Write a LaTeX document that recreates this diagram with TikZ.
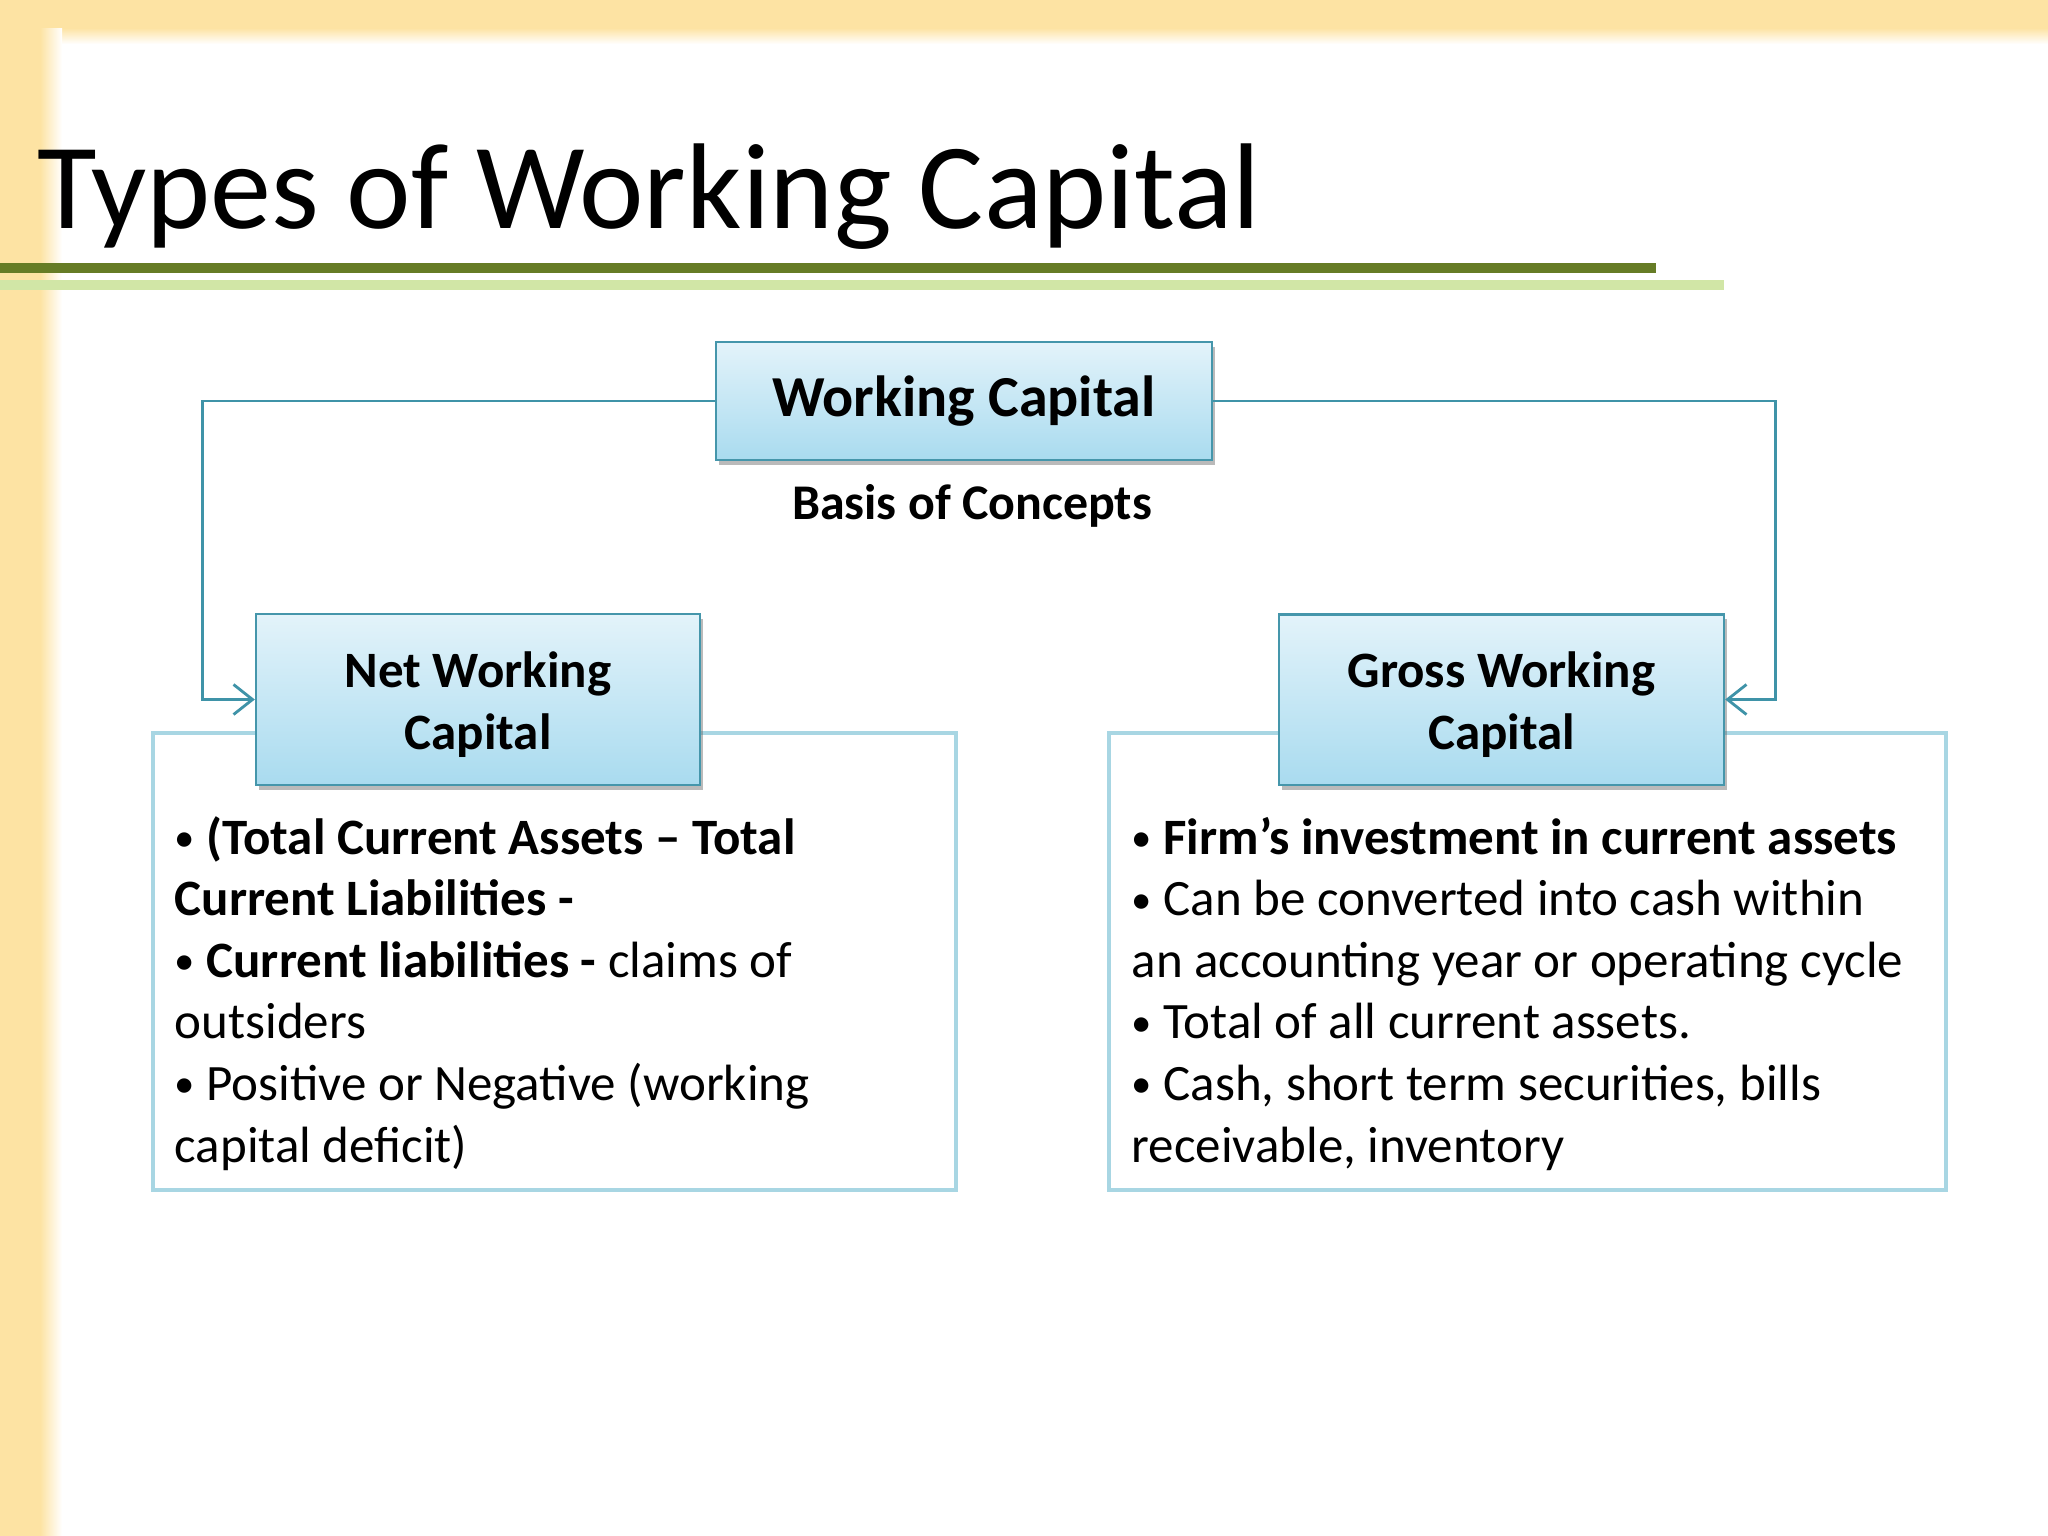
\documentclass[tikz,border=0pt]{standalone}
\usepackage{fontspec}
\setmainfont{Carlito}
\usetikzlibrary{positioning}
\usetikzlibrary{calc}
\usetikzlibrary{shadows}
\usetikzlibrary{arrows.meta}
\definecolor{sand}{HTML}{FDE3A3}
\definecolor{titlegreen}{HTML}{667C26}
\definecolor{palegreen}{HTML}{D1E6A6}
\definecolor{boxline}{HTML}{4596AB}
\definecolor{boxtop}{HTML}{E3F3FA}
\definecolor{boxbot}{HTML}{A9DBEF}
\definecolor{infoline}{HTML}{A8D6E3}
\definecolor{connline}{HTML}{3F93A8}
\newcommand{\blt}{\raisebox{0.05em}{\scalebox{0.8}{\textbullet}}\ }
\tikzset{headbox/.style={draw=boxline, line width=0.6pt, top color=boxtop, bottom color=boxbot, align=center, font=\fontsize{14.5}{17.5}\selectfont\bfseries, drop shadow={shadow xshift=0.03cm, shadow yshift=-0.05cm, opacity=0.45, fill=black!60}}}
\tikzset{infobox/.style={draw=infoline, line width=1.1pt, fill=white}}
\tikzset{infotext/.style={anchor=base west, inner sep=0pt, align=left, font=\fontsize{14.5}{17.5}\selectfont}}
\tikzset{conn/.style={draw=connline, line width=0.8pt, -{Straight Barb[length=0.19cm, width=0.3cm]}}}

\begin{document}
\begin{tikzpicture}[x=0.01cm, y=-0.01cm]

\useasboundingbox (0,0) rectangle (2048,1536);
\fill[white] (0,0) rectangle (2048,1536);

\fill[sand] (0,0) rectangle (2048,28);
\shade[top color=sand, bottom color=white] (62,28) rectangle (2048,44);
\shade[left color=sand, right color=white] (40,28) rectangle (62,1536);
\fill[sand] (0,0) rectangle (40,1536);

\node[anchor=base west, inner sep=0pt, font=\fontsize{34.7}{40}\selectfont] (title) at (37,228) {Types of Working Capital};
\fill[titlegreen] (0,263) rectangle (1656,273);
\fill[palegreen] (0,280) rectangle (1724,290);

\node[infobox, minimum width=8.03cm, minimum height=4.57cm] (netinfo) at (554.5,961.5) {};
\node[infobox, minimum width=8.37cm, minimum height=4.57cm] (grossinfo) at (1527.5,961.5) {};

\node[headbox, font=\fontsize{16.5}{20}\selectfont\bfseries, minimum width=4.96cm, minimum height=1.18cm] (wc) at (964,401) {Working Capital};
\node[anchor=base, inner sep=0pt, font=\fontsize{14.2}{17}\selectfont\bfseries] (basis) at (972,519) {Basis of Concepts};

\node[headbox, minimum width=4.44cm, minimum height=1.71cm] (net) at (478,699.5) {\\[-0.3em]Net Working\\Capital};
\node[headbox, minimum width=4.45cm, minimum height=1.70cm] (gross) at (1501.5,699.5) {\\[-0.3em]Gross Working\\Capital};

\draw[conn] (wc.west) -| ([xshift=-0.52cm]net.west) -- (net.west);
\draw[conn] (wc.east) -| ([xshift=0.5cm]gross.east) -- (gross.east);

\node[infotext] (nettext) at (174,1162) {\blt\textbf{(Total Current Assets -- Total}\\
\textbf{Current Liabilities -}\\
\blt\textbf{Current liabilities -} claims of\\
outsiders\\
\blt Positive or Negative (working\\
capital deficit)};

\node[infotext] (grosstext) at (1131,1162) {\blt\textbf{Firm’s investment in current assets}\\
\blt Can be converted into cash within\\
an accounting year or operating cycle\\
\blt Total of all current assets.\\
\blt Cash, short term securities, bills\\
receivable, inventory};

\end{tikzpicture}
\end{document}
